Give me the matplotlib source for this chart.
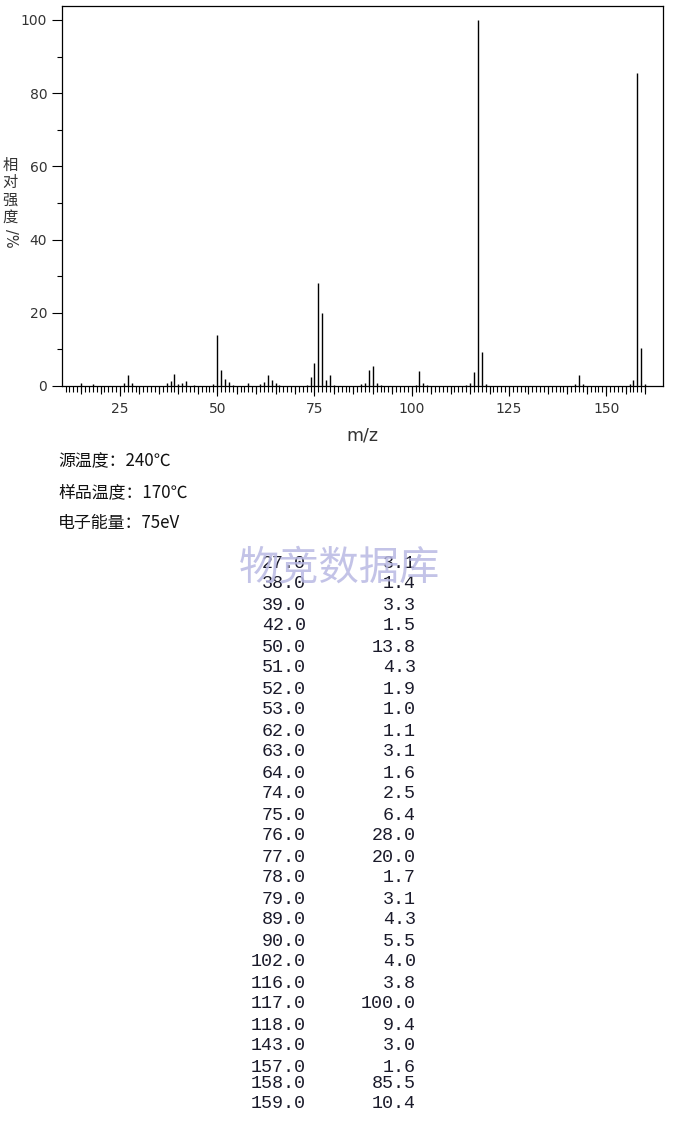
import matplotlib
matplotlib.use("Agg")
import matplotlib.pyplot as plt
from matplotlib.ticker import MultipleLocator, FixedLocator, NullFormatter

# ---- data (from table: peaks >= 1%) ----
table_mz = [27.0, 38.0, 39.0, 42.0, 50.0, 51.0, 52.0, 53.0, 62.0, 63.0, 64.0,
            74.0, 75.0, 76.0, 77.0, 78.0, 79.0, 89.0, 90.0, 102.0, 116.0,
            117.0, 118.0, 143.0, 157.0, 158.0, 159.0]
table_int = [3.1, 1.4, 3.3, 1.5, 13.8, 4.3, 1.9, 1.0, 1.1, 3.1, 1.6,
             2.5, 6.4, 28.0, 20.0, 1.7, 3.1, 4.3, 5.5, 4.0, 3.8,
             100.0, 9.4, 3.0, 1.6, 85.5, 10.4]
# small peaks (< 1%)
minor_mz = [15, 18, 26, 28, 37, 40, 41, 44, 49, 54, 58, 61, 65, 66, 73, 80,
            87, 88, 91, 92, 101, 103, 104, 114, 115, 119, 142, 144, 156, 160]
minor_int = [0.8, 0.5, 0.8, 0.8, 0.8, 0.5, 0.8, 0.3, 0.5, 0.4, 0.7, 0.5, 0.7,
             0.4, 0.4, 0.3, 0.5, 0.7, 0.7, 0.4, 0.4, 0.7, 0.3, 0.4, 0.7, 0.5,
             0.5, 0.5, 0.5, 0.5]

info_lines = ["源温度：240℃", "样品温度：170℃", "电子能量：75eV"]
ylabel_chars = ["相", "对", "强", "度"]
watermark = "物竞数据库"

W, H = 680, 1134
fig = plt.figure(figsize=(W / 100, H / 100), dpi=100)


def fx(px):
    return px / W


def fy(py):
    return 1 - py / H


ax = fig.add_axes([fx(62), fy(386), fx(663) - fx(62), fy(6) - fy(386)])
ax.vlines(table_mz + minor_mz, 0, table_int + minor_int, colors="black",
          linewidth=1.0)
ax.set_xlim(10.1, 164.6)
ax.set_ylim(0, 103.8)
for s in ax.spines.values():
    s.set_linewidth(0.9)
    s.set_color("black")

tick_col = "#333333"
ax.xaxis.set_major_locator(FixedLocator([25, 50, 75, 100, 125, 150]))
ax.xaxis.set_minor_locator(FixedLocator(list(range(10, 161))))
ax.tick_params(axis="x", which="major", length=7.2, width=0.8, pad=4,
               labelsize=10, labelcolor=tick_col, direction="out")
ax.tick_params(axis="x", which="minor", length=4.3, width=0.8, direction="out")
ax.yaxis.set_major_locator(MultipleLocator(20))
ax.yaxis.set_minor_locator(MultipleLocator(10))
ax.tick_params(axis="y", which="major", length=7.2, width=0.8, pad=3.5,
               labelsize=10, labelcolor=tick_col, direction="out")
ax.tick_params(axis="y", which="minor", length=3.6, width=0.8, direction="out")

sec = ax.secondary_xaxis("bottom")
sec.xaxis.set_major_locator(FixedLocator(list(range(10, 161, 5))))
sec.xaxis.set_major_formatter(NullFormatter())
sec.tick_params(axis="x", which="major", length=5.8, width=0.8, direction="out")
sec.spines["bottom"].set_visible(False)

fig.text(fx(362), fy(435), "m/z", fontsize=12.5, color=tick_col,
         ha="center", va="center")

# y label: stacked characters
for i, ch in enumerate(ylabel_chars):
    fig.text(fx(10), fy(165 + 17.5 * i), ch, fontsize=11, color=tick_col,
             family=["Noto Sans CJK SC"], ha="center", va="center")
fig.text(fx(10), fy(238), "/%", fontsize=10.5, color=tick_col, rotation=270,
         ha="center", va="center")

# info lines
for i, line in enumerate(info_lines):
    fig.text(fx(58), fy(461 + 30.8 * i), line, fontsize=12.2, color="#111111",
             family=["Noto Sans CJK SC", "DejaVu Sans"], ha="left",
             va="center")

# table
for i, (m, v) in enumerate(zip(table_mz, table_int)):
    y = 563 + 21 * i - (5 if i >= 25 else 0)
    fig.text(fx(306), fy(y), f"{m:.1f}", fontsize=13.2, color="#1a1a2a",
             family="Liberation Mono", ha="right", va="center")
    fig.text(fx(416), fy(y), f"{v:.1f}", fontsize=13.2, color="#1a1a2a",
             family="Liberation Mono", ha="right", va="center")

fig.text(fx(339), fy(568), watermark, fontsize=29, color="#b9b9e3",
         alpha=0.85, family=["Noto Sans CJK SC"], ha="center", va="center",
         zorder=10)

fig.savefig("out.png", dpi=100)
